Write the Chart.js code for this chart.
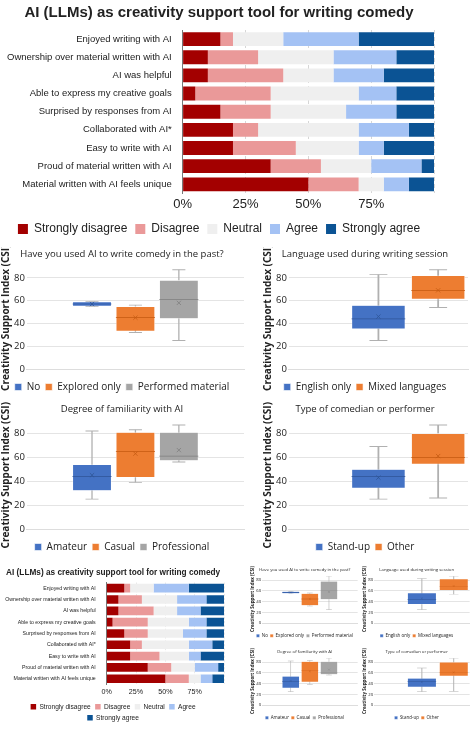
<!DOCTYPE html>
<html>
<head>
<meta charset="utf-8">
<script src="https://cdn.jsdelivr.net/npm/chart.js@4"></script>
<style>
  body { margin: 0; background: #fff; width: 474px; height: 731px; overflow: hidden; position: relative; }
  canvas { position: absolute; }
</style>
</head>
<body>
<canvas id="c-likert" style="left:0px;top:0px" width="474" height="245"></canvas>
<canvas id="c-past" style="left:0px;top:247px" width="250" height="155"></canvas>
<canvas id="c-lang" style="left:262px;top:247px" width="212" height="155"></canvas>
<canvas id="c-fam" style="left:0px;top:402px" width="250" height="160"></canvas>
<canvas id="c-type" style="left:262px;top:402px" width="212" height="160"></canvas>
<canvas id="m-likert" style="left:0px;top:566px" width="246" height="165"></canvas>
<canvas id="m-past" style="left:250px;top:566px" width="112" height="82"></canvas>
<canvas id="m-lang" style="left:362px;top:566px" width="112" height="82"></canvas>
<canvas id="m-fam" style="left:250px;top:648px" width="112" height="82"></canvas>
<canvas id="m-type" style="left:362px;top:648px" width="112" height="82"></canvas>
<script>
(function () {
  'use strict';

  var STATEMENTS = ['Enjoyed writing with AI', 'Ownership over material written with AI', 'AI was helpful',
    'Able to express my creative goals', 'Surprised by responses from AI', 'Collaborated with AI*',
    'Easy to write with AI', 'Proud of material written with AI', 'Material written with AI feels unique'];
  var LEVELS = ['Strongly disagree', 'Disagree', 'Neutral', 'Agree', 'Strongly agree'];
  var STRONGLY_DISAGREE = [15, 10, 10, 5, 15, 20, 20, 35, 50];
  var DISAGREE = [5, 20, 30, 30, 20, 10, 25, 20, 20];
  var NEUTRAL = [20, 30, 20, 35, 30, 40, 25, 20, 10];
  var AGREE = [30, 25, 20, 15, 20, 20, 10, 20, 10];
  var STRONGLY_AGREE = [30, 15, 20, 15, 15, 10, 20, 5, 10];
  var LIKERT_TICKS = [0, 25, 50, 75];

  // box stats: [min, q1, median, q3, max, mean]
  var PAST_GROUPS = ['No', 'Explored only', 'Performed material'];
  var PAST_STATS = [[55, 55, 57, 59, 59, 57], [32, 33, 45, 55, 56, 45], [25, 44, 61, 78, 87, 58]];
  var LANG_GROUPS = ['English only', 'Mixed languages'];
  var LANG_STATS = [[25, 35, 44, 56, 83, 46], [54, 61, 69, 82, 87, 69]];
  var FAM_GROUPS = ['Amateur', 'Casual', 'Professional'];
  var FAM_STATS = [[25, 32, 44, 54, 82, 45], [39, 43, 65, 81, 83, 63], [56, 57, 61, 81, 87, 66]];
  var TYPE_GROUPS = ['Stand-up', 'Other'];
  var TYPE_STATS = [[25, 34, 44, 50, 69, 43], [26, 54, 60, 80, 87, 61]];

  var LIKERT_COLORS = ['#a30000', '#ea9999', '#efefef', '#a4c2f4', '#0b5394'];
  var BOX_COLORS = ['#4472c4', '#ed7d31', '#a5a5a5'];
  var MEDIAN_COLORS = ['#2f5597', '#c55a11', '#7f7f7f'];
  var FONT = "'Liberation Sans', Arial, sans-serif";
  var FONT2 = "'Open Sans', 'Noto Sans', sans-serif";

  Chart.defaults.animation = false;
  Chart.defaults.color = '#222';

  function likertChart(id, s) {
    var series = [STRONGLY_DISAGREE, DISAGREE, NEUTRAL, AGREE, STRONGLY_AGREE];
    new Chart(document.getElementById(id), {
      type: 'bar',
      data: {
        labels: STATEMENTS,
        datasets: series.map(function (d, i) {
          return { label: LEVELS[i], data: d, backgroundColor: LIKERT_COLORS[i], barPercentage: 0.85, categoryPercentage: 0.9 };
        })
      },
      options: {
        responsive: false,
        indexAxis: 'y',
        layout: { padding: { left: 4 * s, right: 40 * s } },
        plugins: {
          title: { display: true, text: 'AI (LLMs) as creativity support tool for writing comedy', font: { family: FONT, size: 15 * s }, color: '#222', padding: { top: 4 * s, bottom: 8 * s } },
          legend: { position: 'bottom', labels: { font: { family: FONT, size: 12 * s }, boxWidth: 10 * s, boxHeight: 10 * s, padding: 8 * s } },
          tooltip: { enabled: false }
        },
        scales: {
          x: {
            stacked: true, min: 0, max: 100,
            afterBuildTicks: function (ax) { ax.ticks = LIKERT_TICKS.concat([100]).map(function (v) { return { value: v }; }); },
            ticks: { font: { family: FONT, size: 13 * s }, callback: function (v) { return v === 100 ? '' : v + '%'; } },
            grid: { color: '#ccc', lineWidth: 0.8 * s, drawTicks: false }, border: { display: false, dash: [4 * s, 3 * s] }
          },
          y: {
            stacked: true,
            ticks: { font: { family: FONT, size: 9.5 * s }, autoSkip: false, color: '#222' },
            grid: { display: false }, border: { color: '#777' }
          }
        }
      }
    });
  }

  function boxChart(id, title, groups, stats, s) {
    var n = groups.length;
    var labels = [''].concat(groups).concat(n === 3 ? [''] : []);
    var idx = function (g, v) { var a = labels.map(function () { return null; }); a[g + 1] = v; return a; };
    var means = [], medians = [], boxes = [], caps = [], whiskers = [];
    stats.forEach(function (st, g) {
      means.push({ type: 'line', data: idx(g, st[5]), showLine: false, pointStyle: 'crossRot', pointRadius: 3 * s, borderColor: MEDIAN_COLORS[g], borderWidth: 0.8 * s, legend: false });
      medians.push({ data: idx(g, [st[2] - 0.3, st[2] + 0.3]), backgroundColor: MEDIAN_COLORS[g], barPercentage: 0.9, categoryPercentage: 1, legend: false });
      boxes.push({ label: groups[g], data: idx(g, [st[1], st[3]]), backgroundColor: BOX_COLORS[g], borderColor: '#ffffff', borderWidth: 0.6 * s, borderSkipped: false, barPercentage: 0.9, categoryPercentage: 1, legend: true });
      caps.push({ data: idx(g, [st[0] - 0.4, st[0] + 0.4]), backgroundColor: '#b0b0b0', barPercentage: 0.3, categoryPercentage: 1, legend: false });
      caps.push({ data: idx(g, [st[4] - 0.4, st[4] + 0.4]), backgroundColor: '#b0b0b0', barPercentage: 0.3, categoryPercentage: 1, legend: false });
      whiskers.push({ data: idx(g, [st[0], st[4]]), backgroundColor: '#b0b0b0', barPercentage: 0.03, categoryPercentage: 1, legend: false });
    });
    new Chart(document.getElementById(id), {
      type: 'bar',
      data: { labels: labels, datasets: means.concat(medians, boxes, caps, whiskers) },
      options: {
        responsive: false,
        datasets: { bar: { grouped: false } },
        layout: { padding: { right: 6 * s } },
        plugins: {
          title: { display: true, text: title, font: { family: FONT2, size: 9.5 * s, weight: 'normal' }, color: '#222', padding: { top: 2 * s, bottom: 6 * s } },
          legend: {
            position: 'bottom',
            labels: {
              font: { family: FONT2, size: 10 * s }, boxWidth: 7 * s, boxHeight: 7 * s, padding: 5 * s,
              filter: function (item, data) { return data.datasets[item.datasetIndex].legend; }
            }
          },
          tooltip: { enabled: false }
        },
        scales: {
          x: { ticks: { display: false }, grid: { display: false }, border: { color: '#ddd' } },
          y: {
            min: 0, max: 90,
            ticks: { stepSize: 10, font: { family: FONT2, size: 9.5 * s }, padding: 2 * s },
            grid: { color: '#e4e4e4', drawTicks: false }, border: { display: false },
            title: { display: true, text: 'Creativity Support Index (CSI)', font: { family: FONT2, size: 10 * s, weight: 'bold' }, padding: 0 }
          }
        }
      }
    });
  }

  likertChart('c-likert', 1);
  boxChart('c-past', 'Have you used AI to write comedy in the past?', PAST_GROUPS, PAST_STATS, 1);
  boxChart('c-lang', 'Language used during writing session', LANG_GROUPS, LANG_STATS, 1);
  boxChart('c-fam', 'Degree of familiarity with AI', FAM_GROUPS, FAM_STATS, 1);
  boxChart('c-type', 'Type of comedian or performer', TYPE_GROUPS, TYPE_STATS, 1);

  likertChart('m-likert', 0.55);
  boxChart('m-past', 'Have you used AI to write comedy in the past?', PAST_GROUPS, PAST_STATS, 0.45);
  boxChart('m-lang', 'Language used during writing session', LANG_GROUPS, LANG_STATS, 0.45);
  boxChart('m-fam', 'Degree of familiarity with AI', FAM_GROUPS, FAM_STATS, 0.45);
  boxChart('m-type', 'Type of comedian or performer', TYPE_GROUPS, TYPE_STATS, 0.45);
})();
</script>
</body>
</html>
